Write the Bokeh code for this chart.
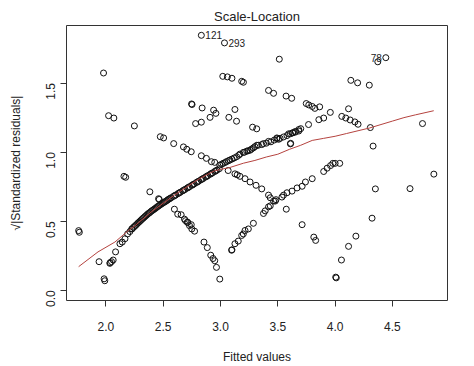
import math
from bokeh.plotting import figure
from bokeh.models import Range1d, FixedTicker, PrintfTickFormatter
from bokeh.core.properties import value
from bokeh.embed import file_html
from bokeh.resources import INLINE

# Fitted values (x) and sqrt(|standardized residuals|) (y)
fitted = [
    2.833, 3.035, 4.442,
    1.98, 3.02, 3.06, 3.10, 3.185, 3.20, 2.748, 2.752, 2.84, 2.94, 2.96, 3.126,
    2.024, 2.07, 2.249, 2.783, 2.833, 2.909, 3.073, 3.14, 3.28, 3.316,
    2.475, 2.504, 2.592, 2.677, 2.706, 2.745, 2.833, 2.877, 2.921, 2.95,
    3.513, 4.372, 4.137, 4.196, 4.298, 3.419, 3.463, 3.572, 3.621,
    3.748, 3.77, 3.80, 3.823, 3.865, 3.958, 3.858, 3.90, 3.768, 4.117,
    4.058, 4.093, 4.131, 4.172, 4.20, 4.307, 4.762, 4.331, 3.61, 3.612,
    3.492, 3.507, 3.595, 3.63, 3.653, 3.683, 3.419, 3.375,
    3.067, 3.126, 3.146, 3.17, 3.214, 3.258, 3.31, 3.36, 3.419, 3.434, 3.478,
    3.574, 3.712, 3.814, 3.83, 4.005, 4.01,
    4.055, 4.117, 4.181, 4.322, 4.351, 4.653, 4.861,
    2.598, 2.627, 2.657, 2.686, 2.715, 2.745, 2.695, 2.71, 2.73, 2.75, 2.774,
    2.856, 2.885, 2.915, 2.935, 2.95, 2.965, 2.994,
    2.384, 2.46, 2.466, 2.158, 2.173,
    3.097, 3.10, 3.126, 3.155, 3.185, 3.199, 3.214, 3.243, 3.287, 3.375, 3.39,
    3.419, 3.434, 3.463, 3.484, 3.536, 3.55, 3.58, 3.624, 3.668, 3.712, 3.741,
    3.80, 3.90, 3.93, 3.96, 3.98, 4.0, 4.04,
    1.763, 1.769, 1.941, 1.985, 1.991,
    2.035, 2.038, 2.05, 2.064, 2.085, 2.123, 2.143, 2.167, 2.19, 2.21, 2.226,
    2.23, 2.25, 2.27, 2.29, 2.31, 2.33, 2.35, 2.37, 2.39, 2.41, 2.43, 2.45,
    2.47, 2.49, 2.51, 2.53, 2.55, 2.57, 2.59, 2.61, 2.63, 2.65, 2.67, 2.69,
    2.71, 2.73, 2.75, 2.77, 2.79, 2.81, 2.83, 2.85, 2.87, 2.89, 2.91, 2.93,
    2.95, 2.97, 2.99,
    2.24, 2.26, 2.28, 2.30, 2.32, 2.34, 2.36, 2.38, 2.40, 2.42, 2.44, 2.46,
    2.48, 2.50, 2.52, 2.54, 2.56, 2.60, 2.64, 2.68, 2.72, 2.76, 2.80, 2.84,
    2.88, 2.92, 2.96,
    2.994, 3.023, 3.053, 3.082, 3.141, 3.17, 3.199, 3.229, 3.258, 3.287, 3.317,
    3.492, 3.55, 3.61, 3.653, 3.683,
    3.01, 3.04, 3.07, 3.10, 3.12, 3.16, 3.21, 3.24, 3.27, 3.30, 3.33, 3.36,
    3.40, 3.44, 3.47, 3.52, 3.58, 3.63, 3.70,
]
sqrt_std_resid = [
    1.846, 1.791, 1.684,
    1.573, 1.549, 1.545, 1.535, 1.513, 1.506, 1.349, 1.345, 1.32, 1.304, 1.281, 1.309,
    1.264, 1.247, 1.19, 1.207, 1.217, 1.252, 1.252, 1.224, 1.181, 1.169,
    1.112, 1.103, 1.062, 1.038, 1.021, 1.003, 0.974, 0.955, 0.931, 0.926,
    1.673, 1.654, 1.52, 1.502, 1.485, 1.447, 1.426, 1.406, 1.39,
    1.352, 1.342, 1.331, 1.317, 1.328, 1.288, 1.235, 1.247, 1.2, 1.314,
    1.259, 1.247, 1.233, 1.219, 1.202, 1.178, 1.207, 1.044, 1.06, 1.064,
    1.103, 1.093, 1.133, 1.14, 1.145, 1.153, 1.078, 1.062,
    0.867, 0.843, 0.836, 0.825, 0.808, 0.784, 0.76, 0.734, 0.689, 0.67, 0.646,
    0.587, 0.475, 0.385, 0.361, 0.095, 0.09,
    0.219, 0.318, 0.392, 0.522, 0.734, 0.736, 0.841,
    0.587, 0.551, 0.547, 0.515, 0.492, 0.475, 0.504, 0.492, 0.468, 0.444, 0.428,
    0.349, 0.309, 0.254, 0.23, 0.214, 0.166, 0.081,
    0.713, 0.663, 0.658, 0.825, 0.818,
    0.29, 0.293, 0.337, 0.356, 0.397, 0.408, 0.433, 0.444, 0.485, 0.556, 0.575,
    0.604, 0.611, 0.646, 0.656, 0.675, 0.689, 0.706, 0.718, 0.741, 0.753, 0.784,
    0.808, 0.86, 0.884, 0.903, 0.919, 0.919, 0.919,
    0.432, 0.42, 0.207, 0.083, 0.069,
    0.195, 0.2, 0.207, 0.219, 0.278, 0.337, 0.349, 0.373, 0.408, 0.425, 0.444,
    0.445, 0.462, 0.478, 0.494, 0.51, 0.525, 0.54, 0.555, 0.568, 0.58, 0.592, 0.605,
    0.617, 0.628, 0.638, 0.648, 0.66, 0.67, 0.68, 0.69, 0.70, 0.71, 0.72, 0.73,
    0.74, 0.75, 0.76, 0.77, 0.78, 0.79, 0.80, 0.81, 0.82, 0.83, 0.84, 0.85,
    0.86, 0.87, 0.88,
    0.455, 0.47, 0.487, 0.502, 0.518, 0.533, 0.548, 0.56, 0.575, 0.586, 0.598, 0.61,
    0.622, 0.633, 0.643, 0.655, 0.665, 0.685, 0.705, 0.725, 0.745, 0.765, 0.785, 0.805,
    0.825, 0.845, 0.865,
    0.907, 0.919, 0.932, 0.943, 0.967, 0.986, 0.998, 1.007, 1.014, 1.031, 1.05,
    1.098, 1.11, 1.133, 1.15, 1.164,
    0.912, 0.925, 0.938, 0.95, 0.958, 0.978, 1.0, 1.01, 1.022, 1.04, 1.05, 1.055,
    1.065, 1.075, 1.088, 1.10, 1.12, 1.14, 1.17,
]

# Labelled observations
label_x = [2.833, 3.035]
label_y = [1.846, 1.791]
label_text = ["121", "293"]
label_left_x = [4.442]
label_left_y = [1.684]
label_left_text = ["78"]

# Smoother (red line)
smooth_x = [1.763, 1.932, 2.079, 2.196, 2.255, 2.3, 2.4, 2.5, 2.6, 2.7, 2.8, 2.9,
            2.95, 3.0, 3.082, 3.2, 3.3, 3.4, 3.5, 3.6, 3.7, 3.8, 3.9, 4.0, 4.1,
            4.2, 4.3, 4.4, 4.5, 4.6, 4.7, 4.86]
smooth_y = [0.171, 0.278, 0.349, 0.432, 0.468, 0.5, 0.57, 0.63, 0.69, 0.745, 0.8,
            0.845, 0.865, 0.875, 0.889, 0.92, 0.94, 0.965, 0.985, 1.02, 1.05, 1.085,
            1.1, 1.115, 1.135, 1.155, 1.175, 1.2, 1.225, 1.25, 1.27, 1.30]

x_ticks = [2.0, 2.5, 3.0, 3.5, 4.0, 4.5]
y_ticks = [0.0, 0.5, 1.0, 1.5]

FONT = "Liberation Sans"

p = figure(width=474, height=366, output_backend="svg", toolbar_location=None,
           x_range=Range1d(1.657, 4.98), y_range=Range1d(-0.074, 1.917),
           min_border_left=66, min_border_right=27, min_border_top=25,
           min_border_bottom=62, title="Scale-Location")
p.background_fill_color = "white"
p.border_fill_color = "white"
p.outline_line_color = "#333333"
p.outline_line_width = 1
p.grid.visible = False

p.title.align = "center"
p.title.text_font = FONT
p.title.text_font_size = "13px"
p.title.text_font_style = "normal"
p.title.text_color = "#222222"
p.title.standoff = 3
p.title.offset = 0

for ax in (p.xaxis[0], p.yaxis[0]):
    ax.major_tick_out = 6
    ax.major_tick_in = 0
    ax.minor_tick_line_color = None
    ax.axis_line_color = "#333333"
    ax.major_tick_line_color = "#333333"
    ax.major_label_text_font = FONT
    ax.major_label_text_font_size = "12px"
    ax.major_label_text_color = "#222222"
    ax.axis_label_text_font = FONT
    ax.axis_label_text_font_size = "12px"
    ax.axis_label_text_font_style = "normal"
    ax.axis_label_text_color = "#222222"
    ax.formatter = PrintfTickFormatter(format="%.1f")

p.xaxis.ticker = FixedTicker(ticks=x_ticks)
p.yaxis.ticker = FixedTicker(ticks=y_ticks)
p.xaxis.bounds = (x_ticks[0], x_ticks[-1])
p.yaxis.bounds = (y_ticks[0], y_ticks[-1])
p.xaxis.major_label_standoff = 15
p.yaxis.major_label_standoff = 10
p.yaxis.major_label_orientation = math.pi / 2
p.xaxis.axis_label = "Fitted values"
p.yaxis.axis_label = "√|Standardized residuals|"
p.xaxis.axis_label_standoff = 16
p.yaxis.axis_label_standoff = 16

p.scatter(fitted, sqrt_std_resid, marker="circle", size=6,
          fill_color=None, line_color="#111111", line_width=1)
p.line(smooth_x, smooth_y, line_color="#b5433f", line_width=1)

p.text(label_x, label_y, text=label_text, text_font=value(FONT),
       text_font_size="10px", text_align="left", text_baseline="middle",
       x_offset=4, text_color="#222222")
p.text(label_left_x, label_left_y, text=label_left_text, text_font=value(FONT),
       text_font_size="10px", text_align="right", text_baseline="middle",
       x_offset=-4, text_color="#222222")

open("out.html", "w").write(file_html(p, INLINE))
